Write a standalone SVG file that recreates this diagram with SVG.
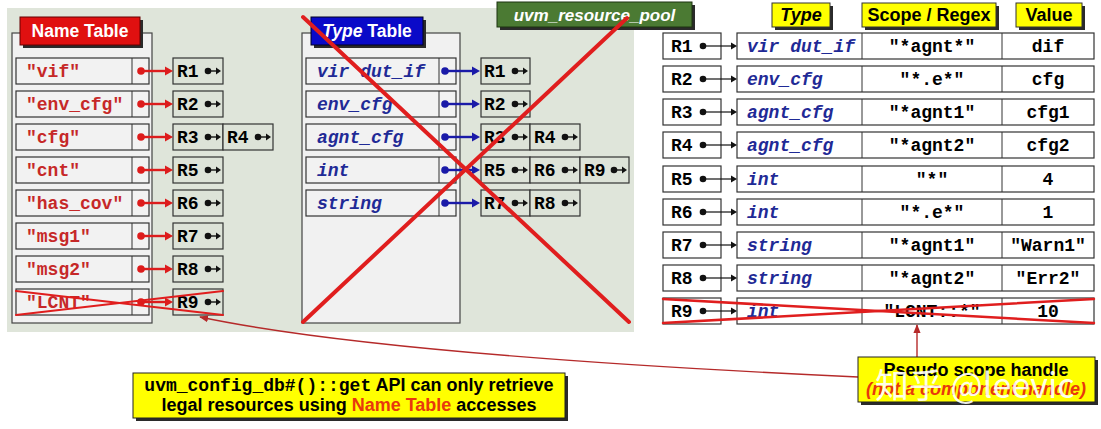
<svg xmlns="http://www.w3.org/2000/svg" xmlns:xlink="http://www.w3.org/1999/xlink" width="1101" height="429" viewBox="0 0 1101 429">
<style>
.mono{font-family:"Liberation Mono","Courier New",monospace;font-weight:bold;font-size:18px}
.sans{font-family:"Liberation Sans",Arial,sans-serif;font-weight:bold}
.nm{fill:#c62828}
.ty{fill:#1f2a96;font-style:italic}
.cell{fill:#f2f2f2;stroke:#333;stroke-width:1.2}
.rbox{fill:#dde3d8;stroke:#333;stroke-width:1.2}
.wcell{fill:#fff;stroke:#333;stroke-width:1.2}
.cont{fill:#f1f1f1;stroke:#444;stroke-width:1.2}
.shadow{fill:#2a2a2a}
.xr{stroke:#e01e1e;stroke-linecap:round;fill:none}
</style>
<defs>
<g id="da"><circle cx="0" cy="0" r="3.3" fill="#111"/><line x1="0" y1="0" x2="9" y2="0" stroke="#111" stroke-width="1.4"/><polygon points="8,-3.5 13,0 8,3.5" fill="#111"/></g>
<g id="ra"><circle cx="0" cy="0" r="3.8" fill="#dd1c1c"/><line x1="0" y1="0" x2="25" y2="0" stroke="#dd1c1c" stroke-width="2.4"/><polygon points="24,-4.5 32,0 24,4.5" fill="#dd1c1c"/></g>
<g id="ba"><circle cx="0" cy="0" r="3.8" fill="#1a1aa8"/><line x1="0" y1="0" x2="28" y2="0" stroke="#1a1aa8" stroke-width="2.4"/><polygon points="27,-4.5 35,0 27,4.5" fill="#1a1aa8"/></g>
<g id="ka"><circle cx="0" cy="0" r="3.3" fill="#111"/><line x1="0" y1="0" x2="29" y2="0" stroke="#111" stroke-width="1.2"/><polygon points="28,-3.5 34,0 28,3.5" fill="#111"/></g>
<marker id="mr" viewBox="0 0 10 10" refX="9" refY="5" markerWidth="9" markerHeight="9" orient="auto" markerUnits="userSpaceOnUse"><path d="M0,1 L10,5 L0,9 z" fill="#b52a2a"/></marker>
</defs>
<rect x="0" y="0" width="1101" height="429" fill="#fff"/>
<rect id="pool-bg" x="7" y="8" width="627" height="324" fill="#dfe5da"/>

<g id="name-table">
<rect class="cont" x="12" y="33" width="140" height="290"/>
<rect class="shadow" x="23" y="20" width="120" height="28"/>
<rect x="20" y="17" width="120" height="28" fill="#e01010" stroke="#600" stroke-width="1"/>
<text class="sans" x="80" y="37" font-size="17.5" fill="#fff" text-anchor="middle">Name Table</text>
<g id="nt-rows">
<rect class="cell" x="16" y="58" width="133" height="26"/><line x1="132" y1="58" x2="132" y2="84" stroke="#333"/>
<rect class="cell" x="16" y="91" width="133" height="26"/><line x1="132" y1="91" x2="132" y2="117" stroke="#333"/>
<rect class="cell" x="16" y="124" width="133" height="26"/><line x1="132" y1="124" x2="132" y2="150" stroke="#333"/>
<rect class="cell" x="16" y="157" width="133" height="26"/><line x1="132" y1="157" x2="132" y2="183" stroke="#333"/>
<rect class="cell" x="16" y="190" width="133" height="26"/><line x1="132" y1="190" x2="132" y2="216" stroke="#333"/>
<rect class="cell" x="16" y="223" width="133" height="26"/><line x1="132" y1="223" x2="132" y2="249" stroke="#333"/>
<rect class="cell" x="16" y="256" width="133" height="26"/><line x1="132" y1="256" x2="132" y2="282" stroke="#333"/>
<rect class="cell" x="16" y="289" width="133" height="26"/><line x1="132" y1="289" x2="132" y2="315" stroke="#333"/>
<text class="mono nm" x="26" y="77">"vif"</text>
<text class="mono nm" x="26" y="110">"env_cfg"</text>
<text class="mono nm" x="26" y="143">"cfg"</text>
<text class="mono nm" x="26" y="176">"cnt"</text>
<text class="mono nm" x="26" y="209">"has_cov"</text>
<text class="mono nm" x="26" y="242">"msg1"</text>
<text class="mono nm" x="26" y="275">"msg2"</text>
<text class="mono nm" x="26" y="308">"LCNT"</text>
</g>
<g id="nt-res">
<rect class="rbox" x="173" y="58" width="50" height="26"/><text class="mono" x="177" y="77">R1</text><use xlink:href="#da" x="208" y="71"/>
<rect class="rbox" x="173" y="91" width="50" height="26"/><text class="mono" x="177" y="110">R2</text><use xlink:href="#da" x="208" y="104"/>
<rect class="rbox" x="173" y="124" width="50" height="26"/><text class="mono" x="177" y="143">R3</text><use xlink:href="#da" x="208" y="137"/>
<rect class="rbox" x="223" y="124" width="50" height="26"/><text class="mono" x="227" y="143">R4</text><use xlink:href="#da" x="258" y="137"/>
<rect class="rbox" x="173" y="157" width="50" height="26"/><text class="mono" x="177" y="176">R5</text><use xlink:href="#da" x="208" y="170"/>
<rect class="rbox" x="173" y="190" width="50" height="26"/><text class="mono" x="177" y="209">R6</text><use xlink:href="#da" x="208" y="203"/>
<rect class="rbox" x="173" y="223" width="50" height="26"/><text class="mono" x="177" y="242">R7</text><use xlink:href="#da" x="208" y="236"/>
<rect class="rbox" x="173" y="256" width="50" height="26"/><text class="mono" x="177" y="275">R8</text><use xlink:href="#da" x="208" y="269"/>
<rect class="rbox" x="173" y="289" width="50" height="26"/><text class="mono" x="177" y="308">R9</text><use xlink:href="#da" x="208" y="302"/>
</g>
</g>

<g id="type-table">
<rect class="cont" x="302" y="33" width="158" height="290"/>
<rect class="shadow" x="314" y="20" width="112" height="28"/>
<rect x="311" y="17" width="112" height="28" fill="#0a0ac8" stroke="#002" stroke-width="1"/>
<text class="sans" x="367" y="37" font-size="17.5" fill="#fff" text-anchor="middle"><tspan font-style="italic">Type</tspan> Table</text>
<rect class="cell" x="306" y="58" width="150" height="26"/><line x1="439" y1="58" x2="439" y2="84" stroke="#333"/>
<rect class="cell" x="306" y="91" width="150" height="26"/><line x1="439" y1="91" x2="439" y2="117" stroke="#333"/>
<rect class="cell" x="306" y="124" width="150" height="26"/><line x1="439" y1="124" x2="439" y2="150" stroke="#333"/>
<rect class="cell" x="306" y="157" width="150" height="26"/><line x1="439" y1="157" x2="439" y2="183" stroke="#333"/>
<rect class="cell" x="306" y="190" width="150" height="26"/><line x1="439" y1="190" x2="439" y2="216" stroke="#333"/>
<text class="mono ty" x="317" y="77">vir dut_if</text>
<text class="mono ty" x="317" y="110">env_cfg</text>
<text class="mono ty" x="317" y="143">agnt_cfg</text>
<text class="mono ty" x="317" y="176">int</text>
<text class="mono ty" x="317" y="209">string</text>
<g id="tt-res">
<rect class="rbox" x="481" y="58" width="49" height="26"/><text class="mono" x="484" y="77">R1</text><use xlink:href="#da" x="515" y="71"/>
<rect class="rbox" x="481" y="91" width="49" height="26"/><text class="mono" x="484" y="110">R2</text><use xlink:href="#da" x="515" y="104"/>
<rect class="rbox" x="481" y="124" width="49" height="26"/><text class="mono" x="484" y="143">R3</text><use xlink:href="#da" x="515" y="137"/>
<rect class="rbox" x="530" y="124" width="50" height="26"/><text class="mono" x="534" y="143">R4</text><use xlink:href="#da" x="565" y="137"/>
<rect class="rbox" x="481" y="157" width="49" height="26"/><text class="mono" x="484" y="176">R5</text><use xlink:href="#da" x="515" y="170"/>
<rect class="rbox" x="530" y="157" width="50" height="26"/><text class="mono" x="534" y="176">R6</text><use xlink:href="#da" x="565" y="170"/>
<rect class="rbox" x="580" y="157" width="49" height="26"/><text class="mono" x="584" y="176">R9</text><use xlink:href="#da" x="614" y="170"/>
<rect class="rbox" x="481" y="190" width="49" height="26"/><text class="mono" x="484" y="209">R7</text><use xlink:href="#da" x="515" y="203"/>
<rect class="rbox" x="530" y="190" width="50" height="26"/><text class="mono" x="534" y="209">R8</text><use xlink:href="#da" x="565" y="203"/>
</g>
</g>

<g id="pool-label">
<rect class="shadow" x="500" y="5" width="195" height="25"/>
<rect x="497" y="2" width="195" height="25" fill="#4b7a33" stroke="#1d3310" stroke-width="1"/>
<text class="sans" x="594.5" y="21" font-size="17" font-style="italic" fill="#fff" text-anchor="middle">uvm_resource_pool</text>
</g>

<g id="resource-table">
<g id="headers">
<rect class="shadow" x="775" y="6" width="58" height="24"/>
<rect x="772" y="3" width="58" height="24" fill="#ffff00" stroke="#333"/>
<text class="sans" x="801" y="21" font-size="18" font-style="italic" text-anchor="middle">Type</text>
<rect class="shadow" x="865" y="6" width="134" height="24"/>
<rect x="862" y="3" width="134" height="24" fill="#ffff00" stroke="#333"/>
<text class="sans" x="929" y="21" font-size="18" text-anchor="middle">Scope / Regex</text>
<rect class="shadow" x="1019" y="6" width="66" height="24"/>
<rect x="1016" y="3" width="66" height="24" fill="#ffff00" stroke="#333"/>
<text class="sans" x="1049" y="21" font-size="18" text-anchor="middle">Value</text>
</g>
<g id="rt-rows">
<g transform="translate(0,33)"><rect class="wcell" x="663" y="0" width="58" height="26"/><rect class="wcell" x="737" y="0" width="357" height="26"/><line x1="862" y1="0" x2="862" y2="26" stroke="#333"/><line x1="1002" y1="0" x2="1002" y2="26" stroke="#333"/><text class="mono" x="671" y="19">R1</text><text class="mono ty" x="747" y="19">vir dut_if</text><text class="mono" x="932" y="19" text-anchor="middle">"*agnt*"</text><text class="mono" x="1048" y="19" text-anchor="middle">dif</text></g>
<g transform="translate(0,66)"><rect class="wcell" x="663" y="0" width="58" height="26"/><rect class="wcell" x="737" y="0" width="357" height="26"/><line x1="862" y1="0" x2="862" y2="26" stroke="#333"/><line x1="1002" y1="0" x2="1002" y2="26" stroke="#333"/><text class="mono" x="671" y="19">R2</text><text class="mono ty" x="747" y="19">env_cfg</text><text class="mono" x="932" y="19" text-anchor="middle">"*.e*"</text><text class="mono" x="1048" y="19" text-anchor="middle">cfg</text></g>
<g transform="translate(0,99)"><rect class="wcell" x="663" y="0" width="58" height="26"/><rect class="wcell" x="737" y="0" width="357" height="26"/><line x1="862" y1="0" x2="862" y2="26" stroke="#333"/><line x1="1002" y1="0" x2="1002" y2="26" stroke="#333"/><text class="mono" x="671" y="19">R3</text><text class="mono ty" x="747" y="19">agnt_cfg</text><text class="mono" x="932" y="19" text-anchor="middle">"*agnt1"</text><text class="mono" x="1048" y="19" text-anchor="middle">cfg1</text></g>
<g transform="translate(0,132)"><rect class="wcell" x="663" y="0" width="58" height="26"/><rect class="wcell" x="737" y="0" width="357" height="26"/><line x1="862" y1="0" x2="862" y2="26" stroke="#333"/><line x1="1002" y1="0" x2="1002" y2="26" stroke="#333"/><text class="mono" x="671" y="19">R4</text><text class="mono ty" x="747" y="19">agnt_cfg</text><text class="mono" x="932" y="19" text-anchor="middle">"*agnt2"</text><text class="mono" x="1048" y="19" text-anchor="middle">cfg2</text></g>
<g transform="translate(0,166)"><rect class="wcell" x="663" y="0" width="58" height="26"/><rect class="wcell" x="737" y="0" width="357" height="26"/><line x1="862" y1="0" x2="862" y2="26" stroke="#333"/><line x1="1002" y1="0" x2="1002" y2="26" stroke="#333"/><text class="mono" x="671" y="19">R5</text><text class="mono ty" x="747" y="19">int</text><text class="mono" x="932" y="19" text-anchor="middle">"*"</text><text class="mono" x="1048" y="19" text-anchor="middle">4</text></g>
<g transform="translate(0,199)"><rect class="wcell" x="663" y="0" width="58" height="26"/><rect class="wcell" x="737" y="0" width="357" height="26"/><line x1="862" y1="0" x2="862" y2="26" stroke="#333"/><line x1="1002" y1="0" x2="1002" y2="26" stroke="#333"/><text class="mono" x="671" y="19">R6</text><text class="mono ty" x="747" y="19">int</text><text class="mono" x="932" y="19" text-anchor="middle">"*.e*"</text><text class="mono" x="1048" y="19" text-anchor="middle">1</text></g>
<g transform="translate(0,232)"><rect class="wcell" x="663" y="0" width="58" height="26"/><rect class="wcell" x="737" y="0" width="357" height="26"/><line x1="862" y1="0" x2="862" y2="26" stroke="#333"/><line x1="1002" y1="0" x2="1002" y2="26" stroke="#333"/><text class="mono" x="671" y="19">R7</text><text class="mono ty" x="747" y="19">string</text><text class="mono" x="932" y="19" text-anchor="middle">"*agnt1"</text><text class="mono" x="1048" y="19" text-anchor="middle">"Warn1"</text></g>
<g transform="translate(0,265)"><rect class="wcell" x="663" y="0" width="58" height="26"/><rect class="wcell" x="737" y="0" width="357" height="26"/><line x1="862" y1="0" x2="862" y2="26" stroke="#333"/><line x1="1002" y1="0" x2="1002" y2="26" stroke="#333"/><text class="mono" x="671" y="19">R8</text><text class="mono ty" x="747" y="19">string</text><text class="mono" x="932" y="19" text-anchor="middle">"*agnt2"</text><text class="mono" x="1048" y="19" text-anchor="middle">"Err2"</text></g>
<g transform="translate(0,298)"><rect class="wcell" x="663" y="0" width="58" height="26"/><rect class="wcell" x="737" y="0" width="357" height="26"/><line x1="862" y1="0" x2="862" y2="26" stroke="#333"/><line x1="1002" y1="0" x2="1002" y2="26" stroke="#333"/><text class="mono" x="671" y="19">R9</text><text class="mono ty" x="747" y="19">int</text><text class="mono" x="932" y="19" text-anchor="middle">"LCNT::*"</text><text class="mono" x="1048" y="19" text-anchor="middle">10</text></g>
</g>
</g>

<g id="connectors">
<use xlink:href="#ra" x="141" y="71"/>
<use xlink:href="#ra" x="141" y="104"/>
<use xlink:href="#ra" x="141" y="137"/>
<use xlink:href="#ra" x="141" y="170"/>
<use xlink:href="#ra" x="141" y="203"/>
<use xlink:href="#ra" x="141" y="236"/>
<use xlink:href="#ra" x="141" y="269"/>
<use xlink:href="#ra" x="141" y="302"/>
<use xlink:href="#ba" x="445" y="71"/>
<use xlink:href="#ba" x="445" y="104"/>
<use xlink:href="#ba" x="445" y="137"/>
<use xlink:href="#ba" x="445" y="170"/>
<use xlink:href="#ba" x="445" y="203"/>
<use xlink:href="#ka" x="703" y="46"/>
<use xlink:href="#ka" x="703" y="79"/>
<use xlink:href="#ka" x="703" y="112"/>
<use xlink:href="#ka" x="703" y="145"/>
<use xlink:href="#ka" x="703" y="179"/>
<use xlink:href="#ka" x="703" y="212"/>
<use xlink:href="#ka" x="703" y="245"/>
<use xlink:href="#ka" x="703" y="278"/>
<use xlink:href="#ka" x="703" y="311"/>
<path d="M858,377 Q380,355 200,317" fill="none" stroke="#b52a2a" stroke-width="1.4" marker-end="url(#mr)"/>
<line x1="917" y1="357" x2="917" y2="325" stroke="#b52a2a" stroke-width="1.4" marker-end="url(#mr)"/>
</g>

<g id="strikes">
<line class="xr" x1="303" y1="17" x2="629" y2="322" stroke-width="4"/>
<line class="xr" x1="303" y1="322" x2="627" y2="18" stroke-width="4"/>
<line class="xr" x1="16" y1="291" x2="223" y2="315" stroke-width="2"/>
<line class="xr" x1="16" y1="315" x2="223" y2="291" stroke-width="2"/>
<line class="xr" x1="663" y1="299" x2="1094" y2="323" stroke-width="2.5"/>
<line class="xr" x1="663" y1="323" x2="1094" y2="299" stroke-width="2.5"/>
</g>

<g id="note-api">
<rect class="shadow" x="136" y="376" width="432" height="45"/>
<rect x="133" y="373" width="432" height="45" fill="#ffff00" stroke="#222"/>
<text x="349" y="391" text-anchor="middle"><tspan class="mono" font-size="18.5">uvm_config_db#()::get</tspan><tspan class="sans" font-size="18"> API can only retrieve</tspan></text>
<text class="sans" x="349" y="411" font-size="18" text-anchor="middle">legal resources using <tspan fill="#e8380d">Name Table</tspan> accesses</text>
</g>

<g id="note-pseudo">
<rect class="shadow" x="861" y="360" width="237" height="45"/>
<rect x="858" y="357" width="237" height="45" fill="#ffff00" stroke="#222"/>
<text class="sans" x="976" y="376" font-size="18" text-anchor="middle">Pseudo scope handle</text>
<text class="sans" x="976" y="395" font-size="18" font-style="italic" fill="#e8380d" text-anchor="middle">(not a component handle)</text>
</g>

<g id="watermark">
<text x="875" y="398" font-family="'Noto Sans CJK SC','Noto Sans',sans-serif" font-size="34" fill="#fff" fill-opacity="0.92">知乎 @leevic</text>
</g>
</svg>
